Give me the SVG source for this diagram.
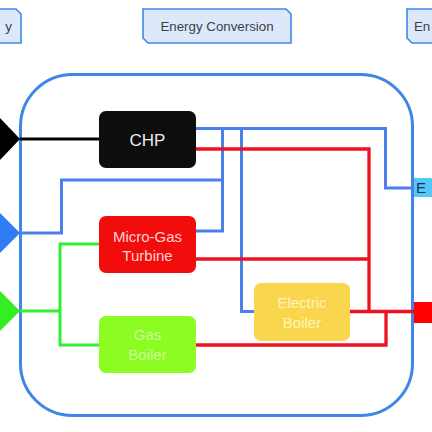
<svg xmlns="http://www.w3.org/2000/svg" width="432" height="432" viewBox="0 0 432 432">
<style>
.hdr{fill:#dde9fb;stroke:#3d8ae6;stroke-width:1.6}
.hdrt{font-family:"Liberation Sans",Arial,sans-serif;font-size:13.3px;fill:#3a3f48}
.node{font-family:"Liberation Sans",Arial,sans-serif;font-size:15px;text-anchor:middle}
.bl{fill:none;stroke:#4a7ff0;stroke-width:3}
.rd{fill:none;stroke:#ee1122;stroke-width:3.3}
.gr{fill:none;stroke:#33ee33;stroke-width:3}
.bk{fill:none;stroke:#000;stroke-width:3}
</style>
<rect width="432" height="432" fill="#fff"/>
<g id="headers">
<path class="hdr" d="M-10,9 H16 L21,14 V43 H-10 Z"/>
<text class="hdrt" x="12" y="31" text-anchor="end">y</text>
<path class="hdr" d="M143,9 H286 L291,14 V43 H148 L143,38 Z"/>
<text class="hdrt" x="217" y="31" text-anchor="middle">Energy Conversion</text>
<path class="hdr" d="M407,9 H440 V43 H412 L407,38 Z"/>
<text class="hdrt" x="414" y="31">En</text>
</g>
<rect id="container" x="20.5" y="74.5" width="392" height="341" rx="52" ry="52" fill="none" stroke="#3f86e6" stroke-width="3"/>
<g id="connectors">
<path class="bl" d="M196,128.5 H385.5 V188 H414"/>
<path class="bl" d="M196,231 H222.5 V128.5"/>
<path class="bl" d="M20,233 H61.5 V180 H222.5"/>
<path class="bl" d="M241.5,128.5 V311.5 H254"/>
<path class="gr" d="M20,311 H60 M99,244 H60 V345 H99"/>
<path class="bk" d="M20,139 H100"/>
<path class="rd" d="M196,149 H369 V311.5 M196,259 H369 M350,311.5 H414 M196,345 H386 V311.5"/>
</g>
<g id="supply-inputs">
<polygon points="20,139 -2,116 -2,162" fill="#000"/>
<polygon points="20,233 -1,212 -1,254" fill="#2f7df5"/>
<polygon points="20,311 -1,290 -1,332" fill="#33ee22"/>
</g>
<g id="chp">
<rect x="99" y="111" width="97" height="57" rx="7" fill="#0d0d0d"/>
<text class="node" x="147.5" y="146" style="font-size:17px" fill="#ececec">CHP</text>
</g>
<g id="micro-gas-turbine">
<rect x="99" y="216" width="97" height="57" rx="7" fill="#f20d0d"/>
<text class="node" x="147.5" y="242" fill="#ffd2d2">Micro-Gas</text>
<text class="node" x="147.5" y="261" fill="#ffd2d2">Turbine</text>
</g>
<g id="gas-boiler">
<rect x="99" y="316" width="97" height="57" rx="7" fill="#8cfc22"/>
<text class="node" x="147.5" y="340" fill="#c9ff96">Gas</text>
<text class="node" x="147.5" y="360" fill="#c9ff96">Boiler</text>
</g>
<g id="electric-boiler">
<rect x="254" y="283" width="96" height="58" rx="7" fill="#fad64f"/>
<text class="node" x="302" y="308" fill="#fff4b8">Electric</text>
<text class="node" x="302" y="328" fill="#fff4b8">Boiler</text>
</g>
<g id="demand-electric">
<rect x="414" y="178" width="30" height="19" fill="#55c8f8"/>
<text x="416" y="193" style="font-family:'Liberation Sans',Arial,sans-serif;font-size:15px" fill="#1a3560">E</text>
</g>
<g id="demand-heat">
<rect x="414" y="302" width="30" height="21" fill="#ff0000"/>
</g>
</svg>
